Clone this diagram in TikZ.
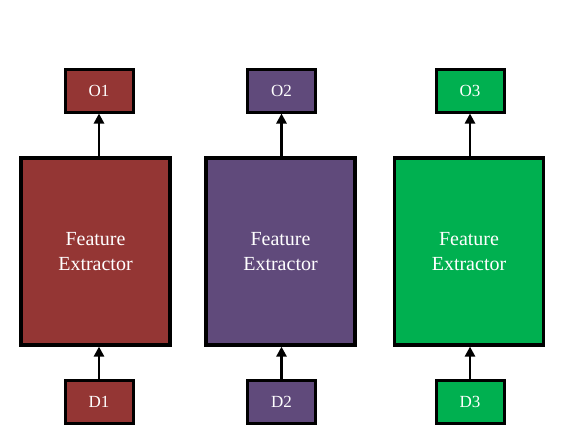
\documentclass[tikz,border=0pt]{standalone}
\usepackage{fontspec}
\setmainfont{Liberation Serif}
\usetikzlibrary{arrows.meta}
\definecolor{cred}{HTML}{943634}
\definecolor{cpurple}{HTML}{604A7B}
\definecolor{cgreen}{HTML}{00B050}
\tikzset{
  fe/.style={draw=black, line width=3.2pt, minimum width=149pt, minimum height=187pt, text=white, align=center, font=\fontsize{20}{25}\selectfont, inner sep=0pt},
  io/.style={draw=black, line width=3pt, minimum width=68pt, minimum height=43pt, text=white, font=\fontsize{17}{20}\selectfont, inner sep=0pt},
  conn/.style={line width=2.8pt, -{Triangle[length=10pt,width=10pt]}}
}
\begin{document}
\begin{tikzpicture}[x=1pt,y=-1pt]
\useasboundingbox (0,0) rectangle (572,442);
\node[fe, fill=cred] (f1) at (95.5,251.5) {Feature\\Extractor};
\node[fe, fill=cpurple] (f2) at (280.5,251.5) {Feature\\Extractor};
\node[fe, fill=cgreen] (f3) at (469,251.5) {Feature\\Extractor};
\node[io, fill=cred] (o1) at (99,90.5) {O1};
\node[io, fill=cpurple] (o2) at (281.5,90.5) {O2};
\node[io, fill=cgreen] (o3) at (470,90.5) {O3};
\node[io, fill=cred] (d1) at (99,401.5) {D1};
\node[io, fill=cpurple] (d2) at (281.5,401.5) {D2};
\node[io, fill=cgreen] (d3) at (470,401.5) {D3};
\draw[conn] (f1.north -| o1.south) -- (o1.south);
\draw[conn] (f2.north -| o2.south) -- (o2.south);
\draw[conn] (f3.north -| o3.south) -- (o3.south);
\draw[conn] (d1.north) -- (d1.north |- f1.south);
\draw[conn] (d2.north) -- (d2.north |- f2.south);
\draw[conn] (d3.north) -- (d3.north |- f3.south);
\end{tikzpicture}
\end{document}
